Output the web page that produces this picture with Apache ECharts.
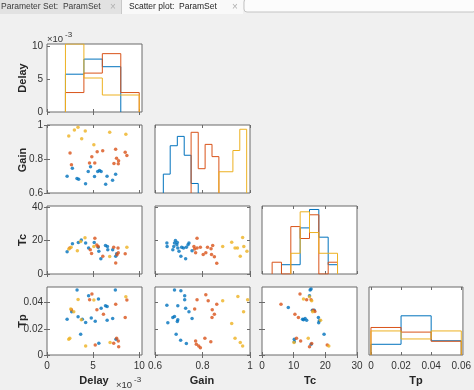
<!DOCTYPE html>
<html><head><meta charset="utf-8">
<script src="https://cdn.jsdelivr.net/npm/echarts@6/dist/echarts.min.js"></script>
<style>html,body{margin:0;padding:0;background:#f0f0f0;}#c{width:474px;height:390px;}</style>
</head><body><div id="c"></div>
<script>
// ---------- data ----------
const vars = ['Delay', 'Gain', 'Tc', 'Tp'];
const groupNames = ['blue', 'orange', 'yellow'];

// Histograms (probability per group)
const delayEdges = [0.002, 0.004, 0.006, 0.008, 0.010];
const delayHistBlue = [0.278, 0.389, 0.333, 0];
const delayHistOrange = [0.143, 0.286, 0.429, 0.143];
const delayHistYellow = [0.5, 0.25, 0.125, 0.125];

const gainEdgesBlue = [0.635, 0.664, 0.694, 0.723, 0.752, 0.782];
const gainHistBlue = [0.111, 0.278, 0.333, 0.222, 0.056];
const gainEdgesOrange = [0.752, 0.782, 0.811, 0.840, 0.869];
const gainHistOrange = [0.357, 0.143, 0.286, 0.214];
const gainEdgesYellow = [0.869, 0.899, 0.928, 0.957, 0.986];
const gainHistYellow = [0.125, 0.125, 0.25, 0.375];

const tcEdges = [3.2, 6.15, 9.1, 12.05, 15.0, 17.95, 20.9, 23.85];
const tcHistBlue = [0, 0.056, 0.056, 0.278, 0.389, 0.222, 0.056];
const tcHistOrange = [0.071, 0, 0.286, 0.214, 0.357, 0, 0.071];
const tcHistYellow = [0, 0, 0.125, 0.375, 0.25, 0.125, 0.125];

const tpEdges = [0, 0.02, 0.04, 0.06];
const tpHistBlue = [0.167, 0.611, 0.222];
const tpHistOrange = [0.429, 0.357, 0.214];
const tpHistYellow = [0.375, 0.25, 0.375];

// Scatter panels [x, y]
const gainDelayBlue = [[0.00218,0.699],[0.00275,0.745],[0.00325,0.685],[0.00343,0.681],[0.00418,0.654],[0.00447,0.726],[0.00472,0.755],[0.00515,0.697],[0.0055,0.726],[0.00569,0.732],[0.00587,0.726],[0.00636,0.652],[0.00651,0.699],[0.00711,0.675],[0.00744,0.71]];
const gainDelayOrange = [[0.0025,0.836],[0.00265,0.766],[0.00461,0.776],[0.00486,0.813],[0.00518,0.776],[0.00544,0.842],[0.00604,0.849],[0.00744,0.857],[0.00754,0.805],[0.00776,0.79],[0.00726,0.774],[0.00773,0.772],[0.00848,0.84],[0.00866,0.82]];
const gainDelayYellow = [[0.00236,0.935],[0.00297,0.971],[0.00336,0.987],[0.00376,0.919],[0.00415,0.965],[0.00508,0.884],[0.0068,0.958],[0.00855,0.946]];

const tcDelayBlue = [[0.00218,13.3],[0.00276,18.0],[0.0034,18.8],[0.00372,20.3],[0.00419,18.4],[0.00451,15.5],[0.00512,18.8],[0.00555,16.0],[0.00562,13.5],[0.00584,9.1],[0.00634,17.0],[0.00655,16.4],[0.00659,14.5],[0.00712,14.5],[0.00745,10.6],[0.00755,12.0]];
const tcDelayOrange = [[0.00247,15.5],[0.00469,14.5],[0.00483,12.2],[0.00519,21.3],[0.0054,17.2],[0.00555,16.4],[0.00605,10.6],[0.00723,16.0],[0.00745,6.6],[0.0077,15.5],[0.00773,12.6],[0.00848,12.0],[0.00759,11.4]];
const tcDelayYellow = [[0.00236,14.9],[0.00261,16.0],[0.00329,13.9],[0.00365,19.3],[0.00412,21.6],[0.00508,16.4],[0.0068,10.4],[0.00866,16.0]];

const tpDelayBlue = [[0.00326,0.0497],[0.00741,0.0497],[0.00451,0.0453],[0.00558,0.0428],[0.00587,0.0358],[0.00634,0.0376],[0.00652,0.0371],[0.00268,0.033],[0.00218,0.0274],[0.00337,0.0292],[0.00383,0.0274],[0.00419,0.0248],[0.0048,0.0282],[0.00523,0.0259],[0.00652,0.0266],[0.00712,0.0279],[0.00365,0.0159],[0.00562,0.009],[0.00748,0.012]];
const tpDelayOrange = [[0.00487,0.0466],[0.00462,0.0422],[0.00265,0.0346],[0.00541,0.0346],[0.00612,0.0312],[0.00745,0.0389],[0.00866,0.042],[0.00848,0.0287],[0.00755,0.0128],[0.00773,0.0108],[0.00777,0.0064],[0.00723,0.009],[0.00523,0.0077]];
const tpDelayYellow = [[0.00337,0.0425],[0.00508,0.042],[0.00855,0.0445],[0.00258,0.0351],[0.0029,0.033],[0.00372,0.0269],[0.00247,0.0128],[0.00236,0.012],[0.00419,0.0069],[0.00684,0.0095]];

const tcGainBlue = [[0.65,18.4],[0.651,16.4],[0.675,14.5],[0.682,18.4],[0.686,19.9],[0.692,17.4],[0.696,15.5],[0.701,13.5],[0.694,18.8],[0.709,10.6],[0.712,15.9],[0.72,15.5],[0.729,9.1],[0.732,16.0],[0.739,17.4],[0.743,18.4],[0.756,13.9],[0.679,16.4]];
const tcGainOrange = [[0.764,16.4],[0.771,12.6],[0.777,21.3],[0.777,15.5],[0.791,15.9],[0.803,11.6],[0.814,12.6],[0.821,16.0],[0.836,15.1],[0.843,17.0],[0.838,11.6],[0.85,10.2],[0.86,6.4],[0.767,14.9]];
const tcGainYellow = [[0.885,16.4],[0.923,18.9],[0.937,15.5],[0.947,15.5],[0.959,10.6],[0.969,21.8],[0.974,16.4],[0.987,13.5]];

const tpGainBlue = [[0.682,0.0497],[0.709,0.0492],[0.725,0.0453],[0.725,0.0422],[0.65,0.0381],[0.696,0.0376],[0.729,0.0358],[0.743,0.033],[0.756,0.0279],[0.675,0.0287],[0.682,0.0294],[0.696,0.0269],[0.694,0.0256],[0.654,0.0246],[0.689,0.0159],[0.708,0.0113],[0.732,0.0087]];
const tpGainOrange = [[0.777,0.0422],[0.814,0.0461],[0.824,0.0415],[0.86,0.0389],[0.767,0.0351],[0.841,0.0346],[0.85,0.0312],[0.84,0.0287],[0.771,0.0108],[0.774,0.0082],[0.784,0.0069],[0.791,0.0056],[0.81,0.0128],[0.835,0.0102]];
const tpGainYellow = [[0.885,0.0415],[0.949,0.0448],[0.99,0.0422],[0.973,0.033],[0.923,0.0241],[0.937,0.0128],[0.959,0.0095],[0.969,0.0069]];

const tpTcBlue = [[15.2,0.0497],[15.5,0.0504],[15.0,0.0453],[8.3,0.0364],[16.5,0.0343],[17.8,0.0287],[18.1,0.0261],[17.9,0.0246],[13.1,0.0269],[13.6,0.0279],[14.1,0.0266],[12.8,0.0274],[19.6,0.0159],[10.2,0.012],[10.2,0.0102],[15.5,0.0082],[15.9,0.0343]];
const tpTcOrange = [[12.0,0.0466],[6.0,0.0389],[14.1,0.0422],[15.5,0.0422],[16.2,0.0343],[16.7,0.0333],[10.4,0.0312],[11.5,0.0287],[10.9,0.0128],[12.2,0.0108],[15.0,0.0064],[15.7,0.0087],[20.6,0.0077]];
const tpTcYellow = [[13.1,0.0428],[15.0,0.0445],[15.7,0.0415],[16.0,0.033],[18.5,0.0266],[10.1,0.0095],[14.6,0.0128],[21.1,0.0069]];

// Tick labels
const delayTicks = [0, 0.005, 0.01];
const gainTicks = [0.6, 0.8, 1];
const tcTicksX = [0, 10, 20, 30];
const tcTicksY = [0, 20, 40];
const tpTicksX = [0, 0.02, 0.04, 0.06];
const tpTicksY = [0, 0.02, 0.04];

// ---------- chart construction ----------
const COL = { blue: '#0072BD', orange: '#D95319', yellow: '#EDB120' };
const BORDER = '#6b6b6b';
const FONT = 'Liberation Sans, Arial, sans-serif';
const colLeft = [47, 155, 262, 369], rowTop = [44, 125, 206, 287], W = 95, H = 68;

const xRange = { Delay: [0, 0.0103], Gain: [0.6, 1.0], Tc: [0, 30], Tp: [-0.0013, 0.0611] };
const yRange = { Delay: [0, 0.0103], Gain: [0.6, 1.0], Tc: [0, 40.5], Tp: [0, 0.052] };
const xTicks = { Delay: delayTicks, Gain: gainTicks, Tc: tcTicksX, Tp: tpTicksX };
const yTicks = { Delay: delayTicks, Gain: gainTicks, Tc: tcTicksY, Tp: tpTicksY };
const fmt = { Delay: v => String(Math.round(v * 1000)), Gain: v => String(v), Tc: v => String(v), Tp: v => String(v) };

const hist = {
  Delay: { max: 0.5, blue: [delayEdges, delayHistBlue], orange: [delayEdges, delayHistOrange], yellow: [delayEdges, delayHistYellow] },
  Gain: { max: 0.4, blue: [gainEdgesBlue, gainHistBlue], orange: [gainEdgesOrange, gainHistOrange], yellow: [gainEdgesYellow, gainHistYellow] },
  Tc: { max: 0.41, blue: [tcEdges, tcHistBlue], orange: [tcEdges, tcHistOrange], yellow: [tcEdges, tcHistYellow] },
  Tp: { max: 1.06, blue: [tpEdges, tpHistBlue], orange: [tpEdges, tpHistOrange], yellow: [tpEdges, tpHistYellow] }
};
const scat = {
  'Gain|Delay': { blue: gainDelayBlue, orange: gainDelayOrange, yellow: gainDelayYellow },
  'Tc|Delay': { blue: tcDelayBlue, orange: tcDelayOrange, yellow: tcDelayYellow },
  'Tp|Delay': { blue: tpDelayBlue, orange: tpDelayOrange, yellow: tpDelayYellow },
  'Tc|Gain': { blue: tcGainBlue, orange: tcGainOrange, yellow: tcGainYellow },
  'Tp|Gain': { blue: tpGainBlue, orange: tpGainOrange, yellow: tpGainYellow },
  'Tp|Tc': { blue: tpTcBlue, orange: tpTcOrange, yellow: tpTcYellow }
};

function stairs(edges, h) {
  let i0 = 0, i1 = h.length - 1;
  while (i0 < h.length && h[i0] === 0) i0++;
  while (i1 >= 0 && h[i1] === 0) i1--;
  const pts = [[edges[i0], 0]];
  for (let i = i0; i <= i1; i++) { pts.push([edges[i], h[i]]); pts.push([edges[i + 1], h[i]]); }
  pts.push([edges[i1 + 1], 0]);
  return pts;
}

function axis(gi, pos, range, ticks, showLabel, formatter, showTick, margin) {
  return {
    type: 'value', gridIndex: gi, position: pos, min: range[0], max: range[1],
    axisLine: { show: false }, splitLine: { show: false },
    axisTick: { show: showTick, inside: true, length: 3, lineStyle: { color: BORDER, width: 1 }, customValues: ticks },
    axisLabel: { show: showLabel, customValues: ticks, formatter: formatter, color: '#333', fontSize: 10, fontFamily: FONT, margin: margin }
  };
}

const grids = [], xAxes = [], yAxes = [], series = [];
for (let r = 0; r < 4; r++) {
  for (let c = 0; c <= r; c++) {
    const gi = grids.length;
    grids.push({ left: colLeft[c], top: rowTop[r], width: W, height: H, show: true,
      backgroundColor: '#ffffff', borderColor: BORDER, borderWidth: 1 });
    const xv = vars[c], yv = vars[r];
    const xi = xAxes.length;
    xAxes.push(axis(gi, 'bottom', xRange[xv], xTicks[xv], r === 3, fmt[xv], true, 6));
    xAxes.push(axis(gi, 'top', xRange[xv], xTicks[xv], false, null, true, 6));
    if (r === c) {
      const yi = yAxes.length;
      const hy = axis(gi, 'left', [0, hist[xv].max], undefined, false, null, false, 4);
      hy.show = false;
      yAxes.push(hy);
      if (r === 0) yAxes.push(axis(gi, 'left', yRange[yv], yTicks[yv], true, fmt[yv], true, 4));
      groupNames.forEach(g => {
        series.push({ type: 'line', xAxisIndex: xi, yAxisIndex: yi, data: stairs(hist[xv][g][0], hist[xv][g][1]),
          symbol: 'none', lineStyle: { color: COL[g], width: 1 }, animation: false, silent: true, clip: true });
      });
    } else {
      const yi = yAxes.length;
      yAxes.push(axis(gi, 'left', yRange[yv], yTicks[yv], c === 0, fmt[yv], true, 4));
      yAxes.push(axis(gi, 'right', yRange[yv], yTicks[yv], false, null, true, 4));
      const d = scat[yv + '|' + xv];
      groupNames.forEach(g => {
        series.push({ type: 'scatter', xAxisIndex: xi, yAxisIndex: yi, data: d[g], symbol: 'circle', symbolSize: 3.5,
          itemStyle: { color: COL[g] }, animation: false, silent: true });
      });
    }
  }
}

const title = (t, x, y, rot) => ({ type: 'text', x: x, y: y, rotation: rot || 0,
  style: { text: t, fill: '#262626', font: 'bold 11px ' + FONT, align: 'center', verticalAlign: 'middle' } });
const txt = (t, x, y, size, color, align) => ({ type: 'text', x: x, y: y,
  style: { text: t, fill: color, font: size + 'px ' + FONT, align: align || 'left', verticalAlign: 'middle' } });

const graphic = [
  // tab strip
  { type: 'rect', shape: { x: 0, y: 0, width: 121, height: 14 }, style: { fill: '#e2e2e2' } },
  { type: 'rect', shape: { x: 121, y: 0, width: 122, height: 14 }, style: { fill: '#f9f9f9' } },
  { type: 'rect', shape: { x: 244, y: -1, width: 232, height: 13, r: 3 }, style: { fill: '#fcfcfc', stroke: '#c4c4c4', lineWidth: 1 } },
  { type: 'line', shape: { x1: 121.5, y1: 0, x2: 121.5, y2: 14 }, style: { stroke: '#c8c8c8', lineWidth: 1 } },
  txt('Parameter Set:  ParamSet', 1, 7, 8.5, '#3a3a3a'),
  txt('×', 113, 7, 10, '#b0b0b0', 'center'),
  txt('Scatter plot:  ParamSet', 129, 7, 8.5, '#1e1e1e'),
  txt('×', 235, 7, 10, '#b0b0b0', 'center'),
  // axis titles
  title('Delay', 94, 381), title('Gain', 202, 381), title('Tc', 310, 381), title('Tp', 416, 381),
  title('Delay', 23, 78, Math.PI / 2), title('Gain', 23, 160, Math.PI / 2),
  title('Tc', 23, 240, Math.PI / 2), title('Tp', 23, 321, Math.PI / 2),
  // exponent labels
  txt('×10', 47, 39.5, 9.5, '#333'), txt('-3', 65, 35, 8, '#333'),
  txt('×10', 116, 385, 9.5, '#333'), txt('-3', 134, 379.5, 8, '#333')
];

const chart = echarts.init(document.getElementById('c'), null, { renderer: 'canvas' });
chart.setOption({
  backgroundColor: '#f0f0f0',
  animation: false,
  grid: grids, xAxis: xAxes, yAxis: yAxes, series: series, graphic: graphic
});
</script></body></html>
